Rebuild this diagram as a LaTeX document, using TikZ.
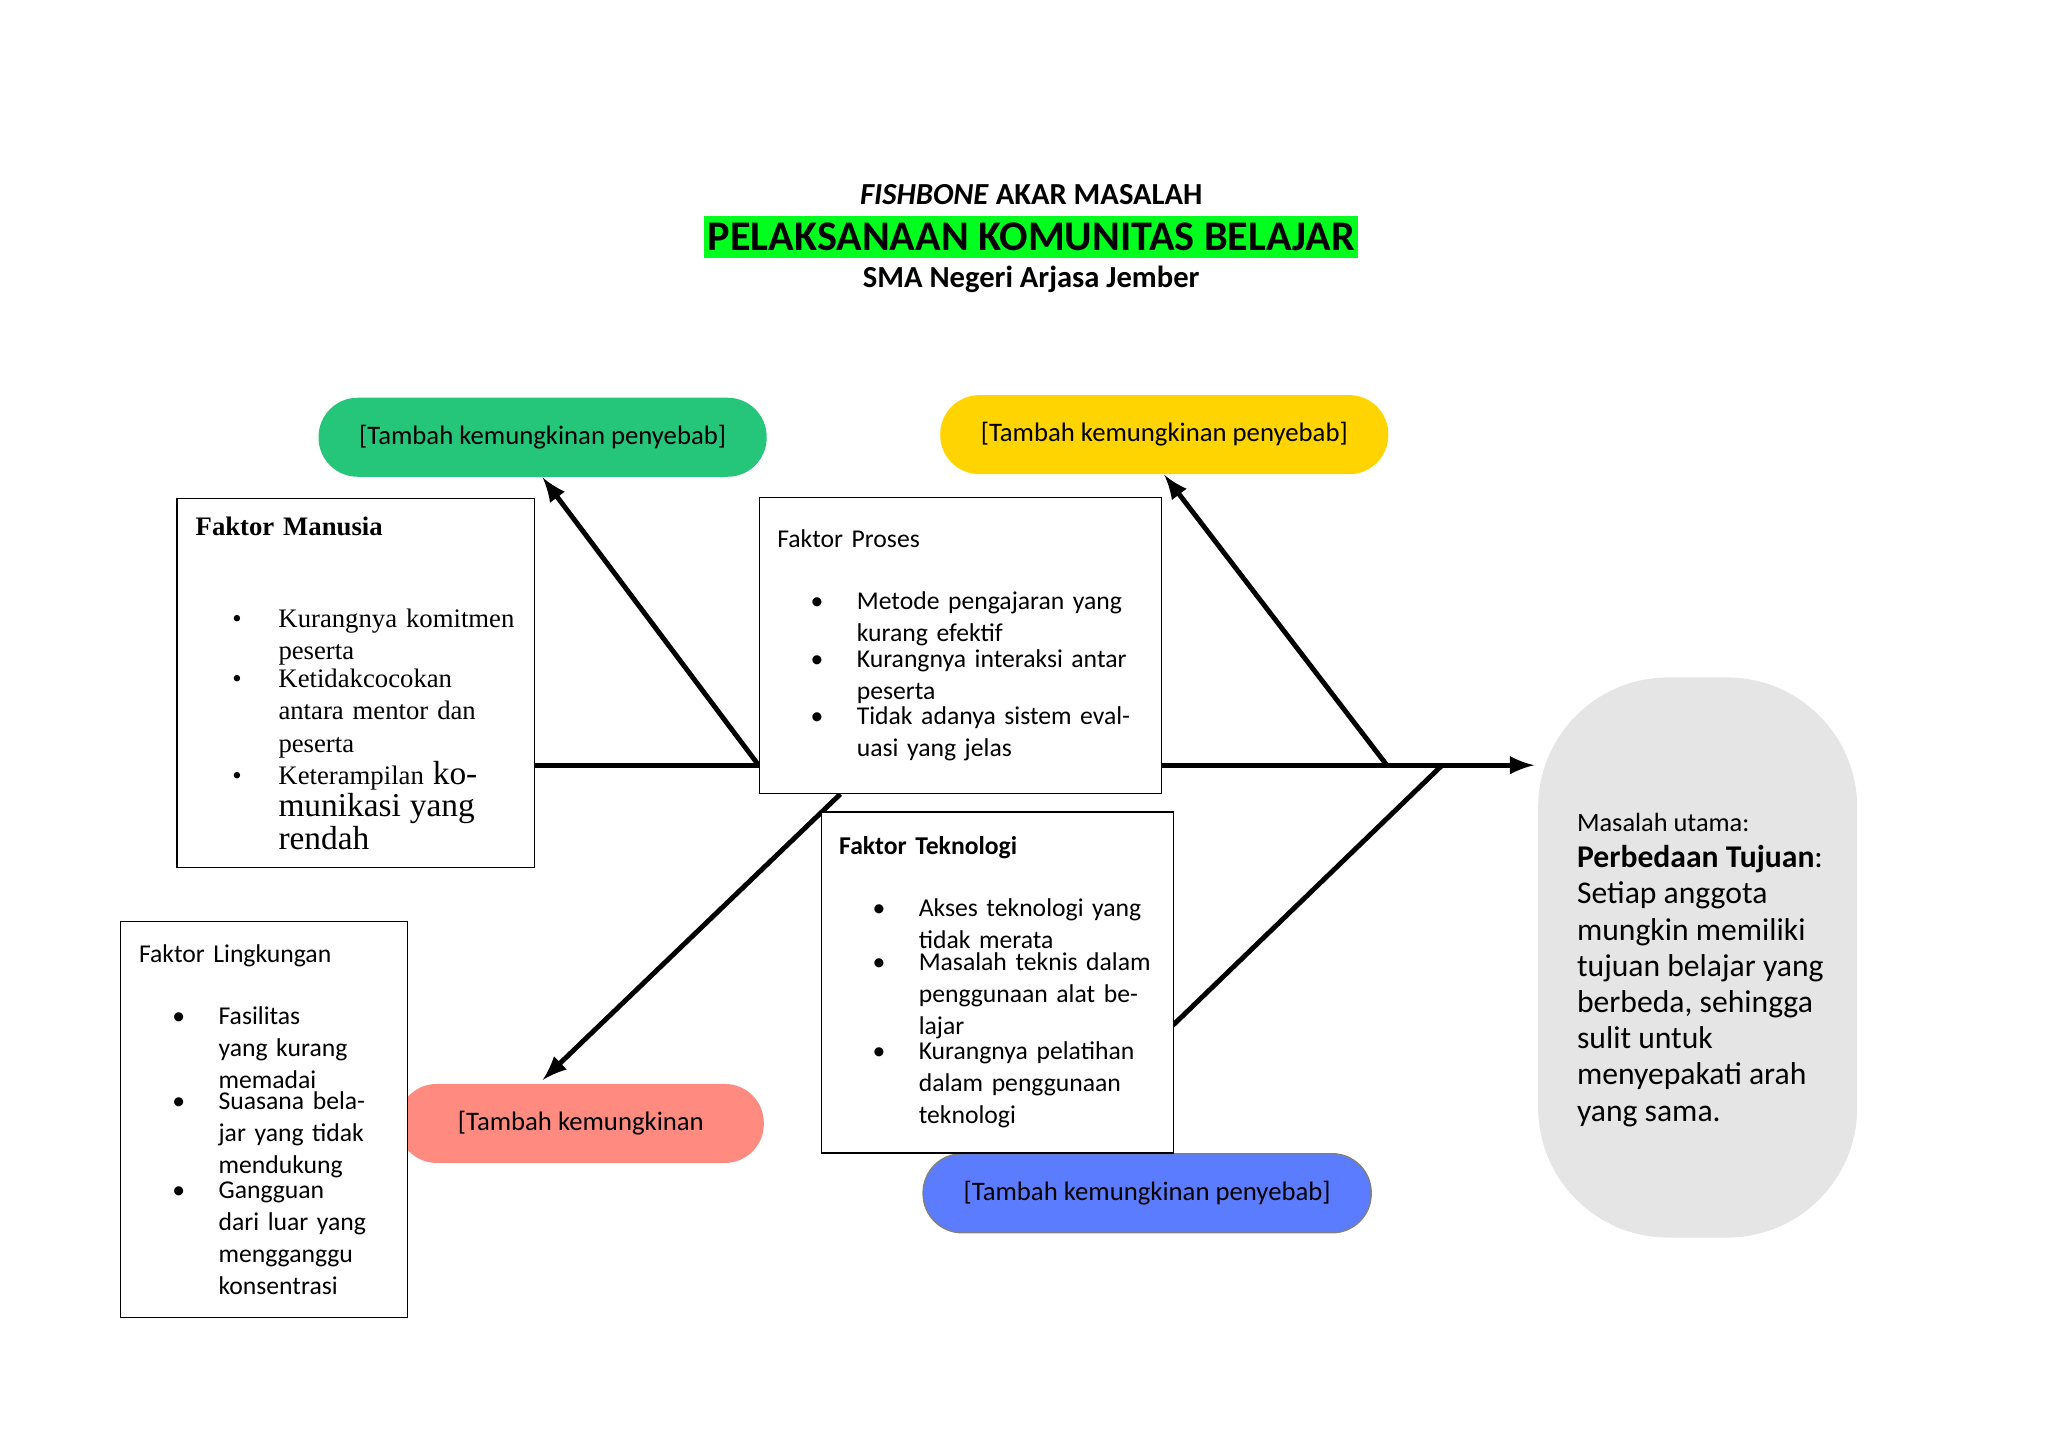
\documentclass[tikz,border=0pt]{standalone}
\usepackage{fontspec}
\setmainfont{Carlito}
\newfontfamily\serif{Liberation Serif}
\usetikzlibrary{arrows, positioning, calc}
\definecolor{pillgreen}{HTML}{26C67A}
\definecolor{pillyellow}{HTML}{FFD400}
\definecolor{pillred}{HTML}{FF8A80}
\definecolor{pillblue}{HTML}{5B7CFF}
\definecolor{hlgreen}{HTML}{00FF1E}
\newcommand{\itm}[1]{\makebox[3.1em][c]{\textbullet}\begin{minipage}[t]{\dimexpr\linewidth-3.1em}#1\end{minipage}\par}
\tikzset{%
	pill/.style={draw=none, rounded corners=0.39cm, minimum width=4.48cm, minimum height=0.79cm, font=\fontsize{7.6}{9}\selectfont},
	faktor/.style={draw, rectangle, anchor=north west, align=left, inner sep=0.18cm, font=\fontsize{7.3}{9.1}\selectfont},
	bone/.style={line width=1.4pt},
	spur/.style={->, >=latex, line width=1.4pt}
}
\begin{document}
\begin{tikzpicture}[x=0.01317cm, y=-0.01317cm]
	\useasboundingbox (0,0) rectangle (1555,1100);
	% judul
	\node[font=\fontsize{8.7}{10}\selectfont\bfseries] (t1) at (783,148) {\textit{FISHBONE} AKAR MASALAH};
	\node[fill=hlgreen, inner xsep=1pt, inner ysep=2pt, font=\fontsize{12}{14}\selectfont\bfseries] (t2) at (783,180) {PELAKSANAAN KOMUNITAS BELAJAR};
	\node[font=\fontsize{8.7}{10}\selectfont\bfseries] (t3) at (783,212) {SMA Negeri Arjasa Jember};

	% penyebab
	\node[pill, fill=pillgreen] (pg) at (412,332) {[Tambah kemungkinan penyebab]};
	\node[pill, fill=pillyellow] (py) at (884,330) {[Tambah kemungkinan penyebab]};
	\node[pill, fill=pillred, minimum width=3.66cm] (pr) at (441,853) {[Tambah kemungkinan};
	\node[pill, fill=pillblue, draw=gray] (pb) at (871,906) {[Tambah kemungkinan penyebab]};

	% masalah
	\node[fill=gray!20, rounded corners=1.3cm, minimum width=3.19cm, minimum height=5.6cm] (masalah) at (1289,727) {};
	\node[anchor=north west, align=left, font=\fontsize{9}{10.3}\selectfont] (mtext) at (1188,608)
		{{\fontsize{7.5}{9}\selectfont Masalah utama:}\\\textbf{Perbedaan Tujuan}:\\Setiap anggota\\mungkin memiliki\\tujuan belajar yang\\berbeda, sehingga\\sulit untuk\\menyepakati arah\\yang sama.};

	% tulang utama
	\coordinate (s1) at (576,581);
	\coordinate (s2) at (1053,581);
	\coordinate (s3) at (1095,581);
	\coordinate (s4) at (638,603);
	\coordinate (s5) at (889,780);
	\draw[spur] (405,581) -- (1165,581);
	\draw[spur] (s1) -- (pg.south);
	\draw[spur] (s2) -- (py.south);
	\draw[spur] (s4) -- (412,820);
	\draw[bone] (s5) -- (s3);

	% faktor
	\node[faktor, fill=white, minimum width=3.57cm, minimum height=3.37cm, text width=3.2cm, font=\serif\fontsize{7.6}{9.2}\selectfont] (manusia) at (134,378)
		{\vspace{0.25cm}\textbf{Faktor Manusia}\par\vspace{0.35cm}
		\itm{Kurangnya komitmen peserta}
		\itm{Ketidakcocokan antara mentor dan peserta}
		\itm{Keterampilan {\fontsize{9.5}{11}\selectfont komunikasi yang rendah}}};
	\node[faktor, fill=white, minimum width=4.02cm, minimum height=2.96cm, text width=3.66cm] (proses) at (576,377)
		{Faktor Proses\par\vspace{0.3cm}
		\itm{Metode pengajaran yang kurang efektif}
		\itm{Kurangnya interaksi antar peserta}
		\itm{Tidak adanya sistem evaluasi yang jelas}};
	\node[faktor, fill=white, minimum width=3.52cm, minimum height=3.41cm, text width=3.16cm] (teknologi) at (623,616)
		{\textbf{Faktor Teknologi}\par\vspace{0.3cm}
		\itm{Akses teknologi yang tidak merata}
		\itm{Masalah teknis dalam penggunaan alat belajar}
		\itm{Kurangnya pelatihan dalam penggunaan teknologi}};
	\node[faktor, fill=white, minimum width=2.87cm, minimum height=3.96cm, text width=2.5cm] (lingkungan) at (91,699)
		{Faktor Lingkungan\par\vspace{0.3cm}
		\itm{Fasilitas yang kurang memadai}
		\itm{Suasana belajar yang tidak mendukung}
		\itm{Gangguan dari luar yang mengganggu konsentrasi}};
\end{tikzpicture}
\end{document}
